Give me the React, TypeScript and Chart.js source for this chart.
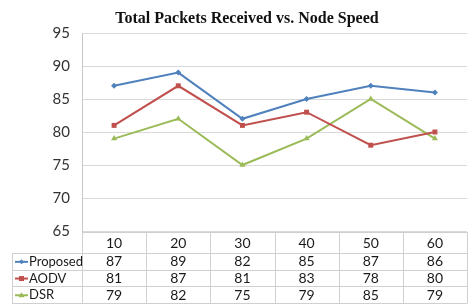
import React, { useEffect, useRef } from "react";
import { Chart, registerables } from "chart.js";

Chart.register(...registerables);

const TITLE = "Total Packets Received vs. Node Speed";
const categories = ["10", "20", "30", "40", "50", "60"];
const seriesNames = ["Proposed", "AODV", "DSR"];
const proposed = [87, 89, 82, 85, 87, 86];
const aodv = [81, 87, 81, 83, 78, 80];
const dsr = [79, 82, 75, 79, 85, 79];
const yMin = 65;
const yMax = 95;
const yStep = 5;

const colors = ["#4F81BD", "#C0504D", "#9BBB59"];
const markers = ["rectRot", "rect", "triangle"];
const markerRadius = [3, 3.5, 3.5];
const seriesData = [proposed, aodv, dsr];

const FONT = "Lato, 'Open Sans', 'Liberation Sans', sans-serif";

const tablePlugin = {
  id: "dataTable",
  afterDraw(chart: any) {
    const ctx = chart.ctx;
    const xs = chart.scales.x;
    const area = chart.chartArea;
    const n = categories.length;
    const colW = (area.right - area.left) / n;
    const top = area.bottom + 1;
    const headerH = 21;
    const rowH = 16.7;
    const tableLeft = 12;
    const bottom = top + headerH + rowH * seriesNames.length;
    ctx.save();
    ctx.fillStyle = "#111";
    ctx.font = "bold 16px 'Liberation Serif', 'DejaVu Serif', serif";
    ctx.textAlign = "center";
    ctx.textBaseline = "middle";
    ctx.fillText(TITLE, 247, 19);

    ctx.strokeStyle = "#d0d0d0";
    ctx.lineWidth = 1;
    const hl = (y: number, x0: number) => {
      ctx.beginPath();
      ctx.moveTo(x0, Math.round(y) + 0.5);
      ctx.lineTo(area.right, Math.round(y) + 0.5);
      ctx.stroke();
    };
    hl(top, area.left);
    hl(top + headerH, tableLeft);
    for (let r = 1; r <= seriesNames.length; r++) hl(top + headerH + rowH * r, tableLeft);
    const vl = (x: number, y0: number) => {
      ctx.beginPath();
      ctx.moveTo(Math.round(x) + 0.5, y0);
      ctx.lineTo(Math.round(x) + 0.5, Math.round(bottom) + 0.5);
      ctx.stroke();
    };
    vl(tableLeft, top + headerH);
    for (let i = 0; i <= n; i++) vl(area.left + colW * i, top);

    ctx.fillStyle = "#1a1a1a";
    ctx.font = `14px ${FONT}`;
    ctx.textAlign = "center";
    ctx.textBaseline = "middle";
    categories.forEach((c, i) => {
      ctx.fillText(c, xs.getPixelForValue(i), top + headerH / 2 + 1);
    });
    seriesNames.forEach((name, r) => {
      const cy = top + headerH + rowH * r + rowH / 2 + 0.5;
      ctx.strokeStyle = colors[r];
      ctx.lineWidth = 2;
      ctx.beginPath();
      ctx.moveTo(15, cy);
      ctx.lineTo(28, cy);
      ctx.stroke();
      ctx.fillStyle = colors[r];
      ctx.beginPath();
      if (r === 0) {
        ctx.moveTo(21.5, cy - 2.5);
        ctx.lineTo(24, cy);
        ctx.lineTo(21.5, cy + 2.5);
        ctx.lineTo(19, cy);
      } else if (r === 1) {
        ctx.rect(19, cy - 2.5, 5, 5);
      } else {
        ctx.moveTo(21.5, cy - 3);
        ctx.lineTo(24.5, cy + 2);
        ctx.lineTo(18.5, cy + 2);
      }
      ctx.closePath();
      ctx.fill();
      ctx.fillStyle = "#1a1a1a";
      ctx.textAlign = "left";
      ctx.font = `13px ${FONT}`;
      ctx.fillText(name, 29, cy);
      ctx.font = `14px ${FONT}`;
      ctx.textAlign = "center";
      seriesData[r].forEach((v, i) => {
        ctx.fillText(String(v), xs.getPixelForValue(i), cy);
      });
    });
    ctx.restore();
  },
};

export default function App() {
  const ref = useRef<HTMLCanvasElement>(null);
  useEffect(() => {
    document.body.style.margin = "0";
    const chart = new Chart(ref.current!, {
      type: "line",
      data: {
        labels: categories,
        datasets: seriesNames.map((name, i) => ({
          label: name,
          data: seriesData[i],
          borderColor: colors[i],
          backgroundColor: colors[i],
          borderWidth: 2,
          pointStyle: markers[i] as any,
          pointRadius: markerRadius[i],
          pointBorderWidth: 0,
          tension: 0,
        })),
      },
      options: {
        animation: false,
        responsive: false,
        devicePixelRatio: 1,
        layout: { padding: { top: 33, right: 7, bottom: 75, left: 0 } },
        plugins: { legend: { display: false }, tooltip: { enabled: false }, title: { display: false } },
        scales: {
          x: {
            display: false,
            offset: true,
          },
          y: {
            min: yMin,
            max: yMax,
            ticks: {
              stepSize: yStep,
              color: "#333",
              font: { family: FONT, size: 15 },
              padding: 12,
            },
            grid: { color: "#d9d9d9", drawTicks: false },
            border: { color: "#c8c8c8" },
            afterFit: (s: any) => {
              s.width = 82;
            },
          },
        },
      },
      plugins: [tablePlugin],
    });
    return () => chart.destroy();
  }, []);
  return (
    <div style={{ width: 474, height: 306 }}>
      <canvas ref={ref} width={474} height={306} style={{ display: "block" }} />
    </div>
  );
}
